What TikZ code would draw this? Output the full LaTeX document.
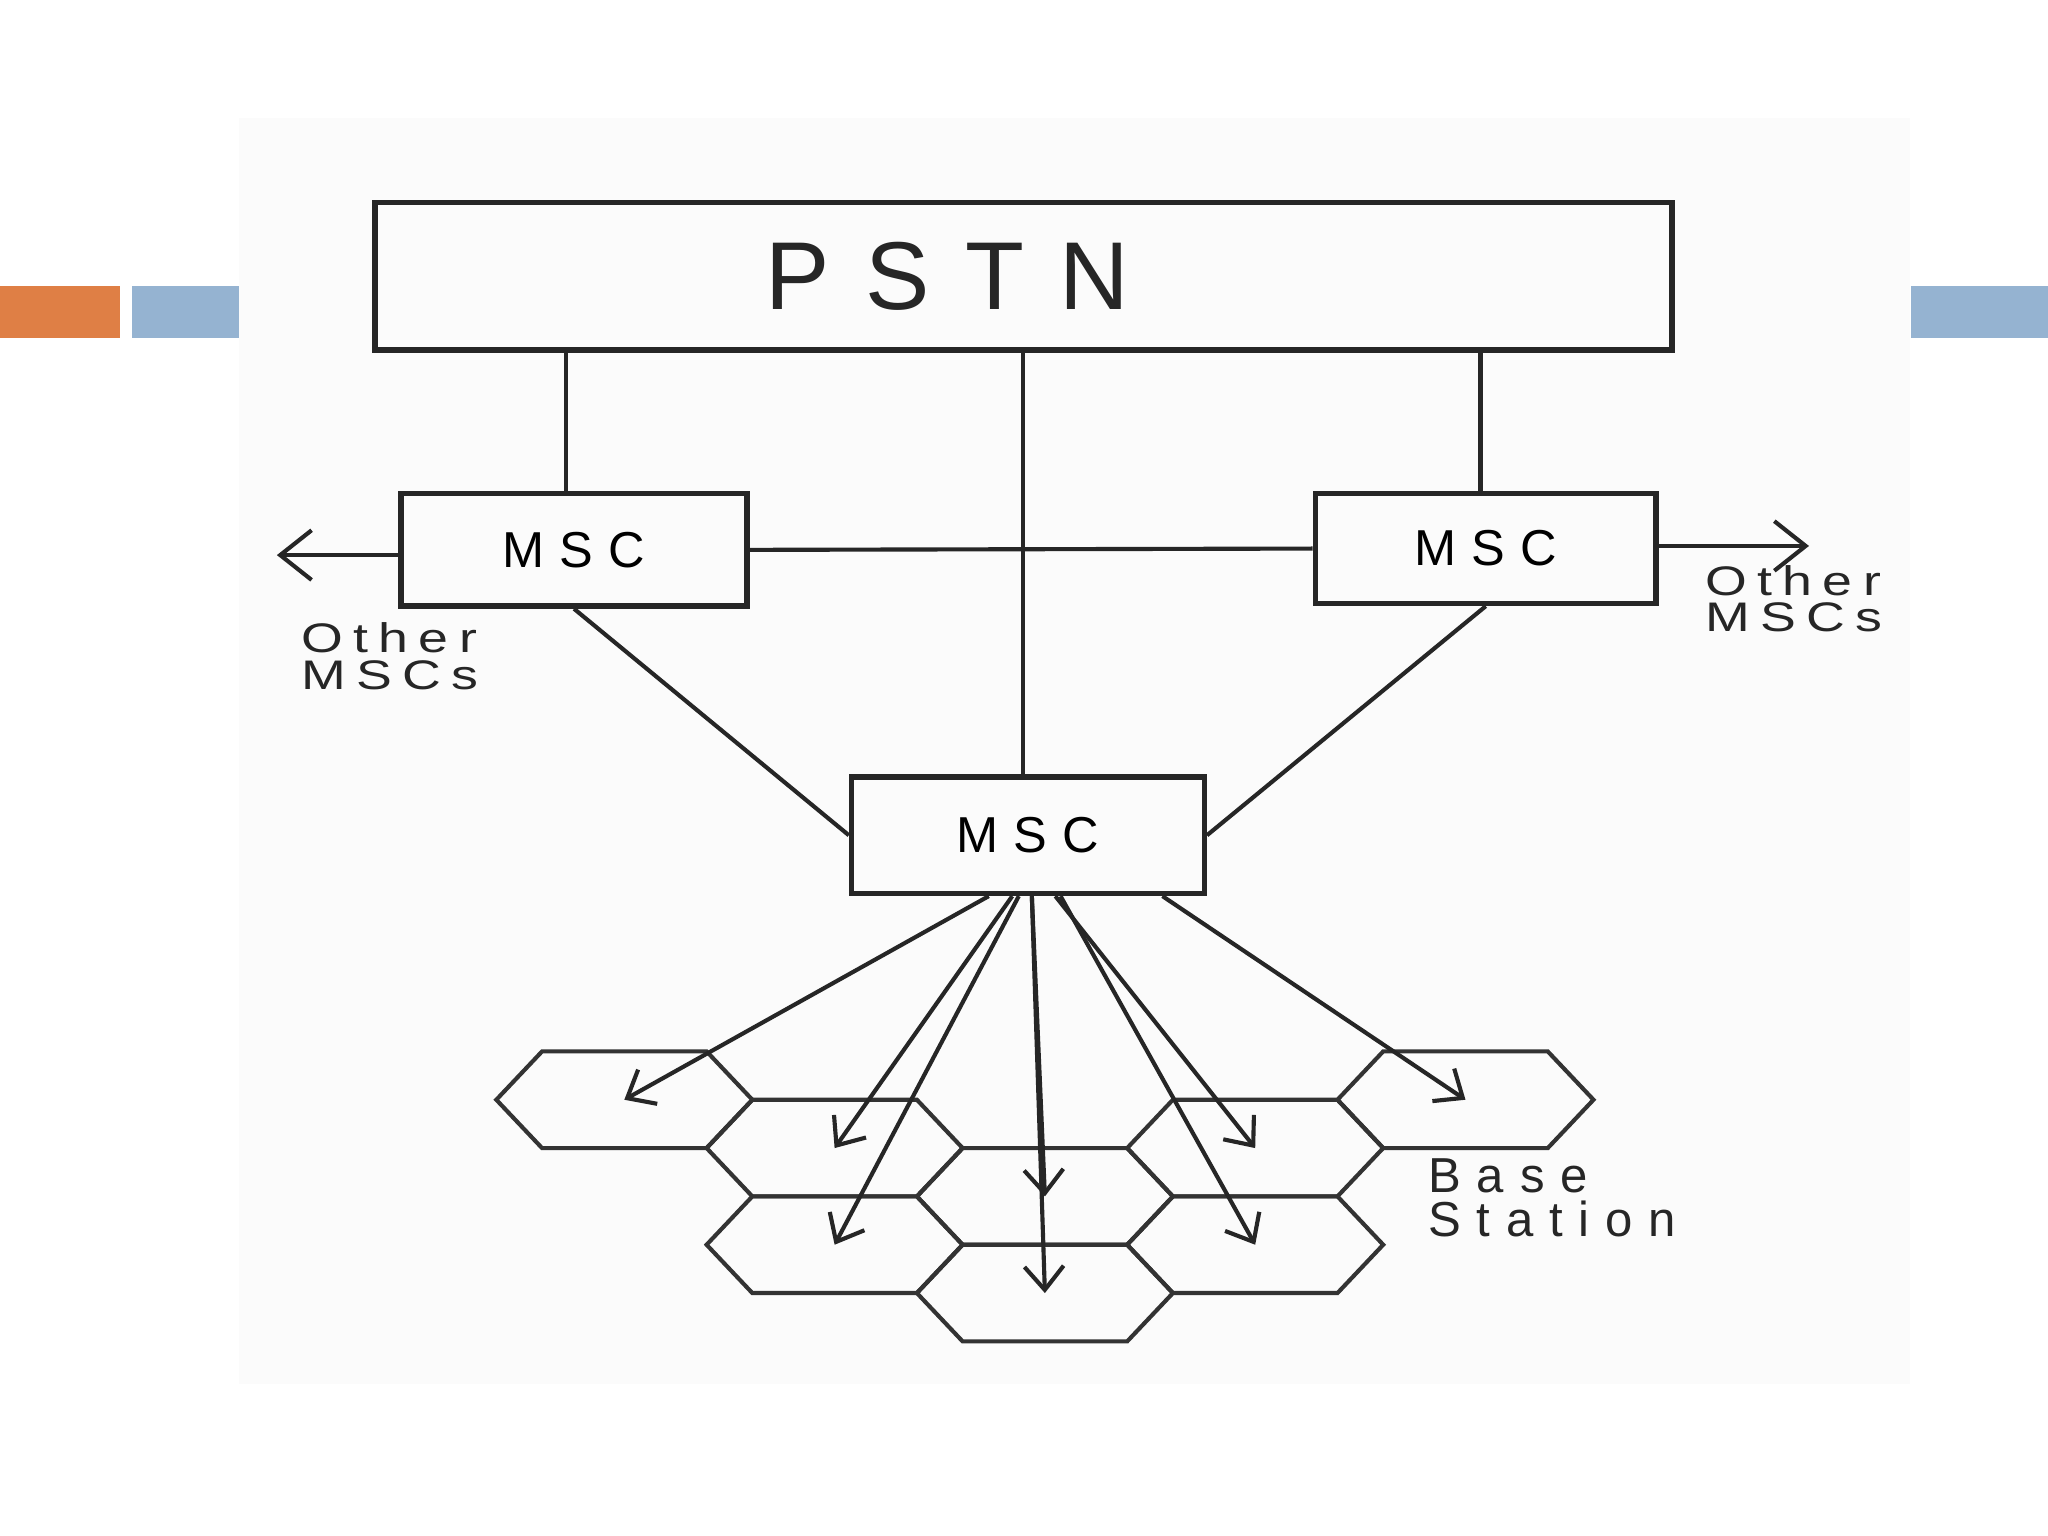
\documentclass[tikz,border=0pt]{standalone}
\usepackage{fontspec}
\usetikzlibrary{arrows.meta}
\newfontfamily\sketchfont[LetterSpace=30]{Liberation Sans}
\newfontfamily\pstnfont[LetterSpace=37]{Liberation Sans}
\newfontfamily\otherfont[LetterSpace=25,FakeStretch=1.3]{Liberation Sans}
\newfontfamily\basefont[LetterSpace=32]{Liberation Sans}
\definecolor{barorange}{RGB}{223,127,69}
\definecolor{barblue}{RGB}{149,179,209}
\tikzset{
  box/.style={draw=black!85, line width=1.2pt, inner sep=0pt,
    font=\sketchfont\fontsize{11}{11}\selectfont},
  link/.style={draw=black!85, line width=0.9pt},
  cell/.style={draw=black!80, line width=0.9pt},
  msctip/.style={link, -{Straight Barb[length=2.4mm,width=3.8mm]}},
  celltip/.style={link, -{Straight Barb[length=1.8mm,width=3mm]}},
  other/.style={align=left, inner sep=0pt, text=black!85,
    font=\otherfont\fontsize{9}{8}\selectfont}
}

\begin{document}
\begin{tikzpicture}
  \useasboundingbox (0,0) rectangle (15.68,-11.76);
  \fill[white] (0,0) rectangle (15.68,-11.76);
  \fill[gray!3] (1.83,-0.90) rectangle (14.62,-10.60);
  % slide bars
  \fill[barorange] (0,-2.19) rectangle (0.92,-2.59);
  \fill[barblue] (1.01,-2.19) rectangle (1.83,-2.59);
  \fill[barblue] (14.63,-2.19) rectangle (15.68,-2.59);

  % boxes
  \node[box, minimum width=9.93cm, minimum height=1.13cm,
    label={[font=\pstnfont\fontsize{21}{21}\selectfont, text=black!85, xshift=-0.58cm]center:PSTN}] (pstn) at (7.835,-2.115) {};
  \node[box, minimum width=2.65cm, minimum height=0.86cm] (lmsc) at (4.395,-4.21) {MSC};
  \node[box, minimum width=2.61cm, minimum height=0.84cm] (rmsc) at (11.375,-4.20) {MSC};
  \node[box, minimum width=2.70cm, minimum height=0.89cm] (cmsc) at (7.87,-6.395) {MSC};

  % links
  \draw[link] ([xshift=-0.06cm]pstn.south -| lmsc.north) -- ([xshift=-0.06cm]lmsc.north);
  \draw[link] ([xshift=-0.04cm]pstn.south -| cmsc.north) -- ([xshift=-0.04cm]cmsc.north);
  \draw[link] ([xshift=-0.04cm]pstn.south -| rmsc.north) -- ([xshift=-0.04cm]rmsc.north);
  \draw[link] (lmsc.east) -- (rmsc.west);
  \draw[link] (lmsc.south) -- (cmsc.west);
  \draw[link] (rmsc.south) -- (cmsc.east);

  \coordinate (lout) at (2.12,-4.25);
  \coordinate (rout) at (13.85,-4.18);
  \draw[msctip] (lmsc.west |- lout) -- (lout);
  \draw[msctip] (rmsc.east |- rout) -- (rout);
  \node[other, anchor=north west] (lother) at (2.30,-4.76) {Other\\MSCs};
  \node[other, anchor=north west] (rother) at (13.05,-4.32) {Other\\MSCs};

  % cells
  \foreach \n/\x/\y in {1/4.78/-8.42, 2/6.39/-8.79, 3/8.00/-9.16, 4/9.61/-8.79,
      5/11.22/-8.42, 6/6.39/-9.53, 7/9.61/-9.53, 8/8.00/-9.90} {
    \coordinate (h\n) at (\x,\y);
    \draw[cell] (h\n) ++(-0.98,0) -- ++(0.35,0.37) -- ++(1.26,0) -- ++(0.35,-0.37)
      -- ++(-0.35,-0.37) -- ++(-1.26,0) -- cycle;
  }
  \foreach \n/\dx in {1/-0.30, 2/-0.12, 6/-0.07, 3/0.03, 8/0.03, 4/0.21, 7/0.25, 5/1.03}
    \draw[celltip] ([xshift=\dx cm]cmsc.south) -- (h\n);

  \node[other, anchor=west, font=\basefont\fontsize{10.7}{9.5}\selectfont] (bs) at (10.93,-9.17) {Base\\Station};
\end{tikzpicture}
\end{document}
